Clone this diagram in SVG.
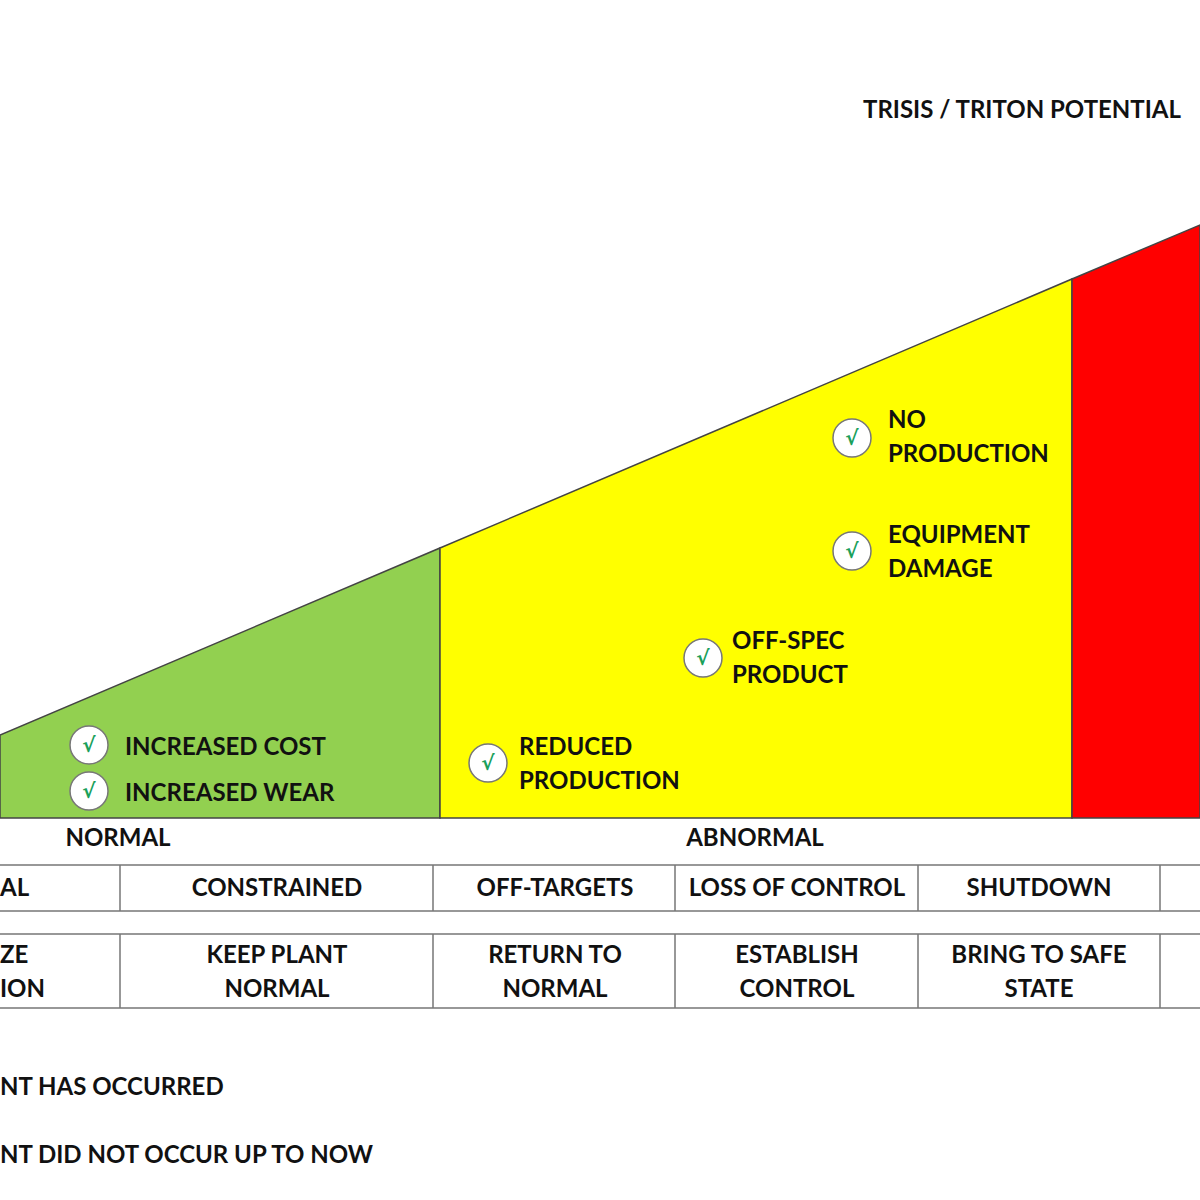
<svg xmlns="http://www.w3.org/2000/svg" width="1200" height="1200" viewBox="0 0 1200 1200">
<style>
text{font-family:Lato,"Open Sans","Liberation Sans",sans-serif;font-weight:bold;font-size:24px;fill:#111}
.c{text-anchor:middle}
.ck{fill:#fff;stroke:#777;stroke-width:1.5}
.cm{fill:#1aa05a;font-size:20px;text-anchor:middle;font-family:"DejaVu Sans",sans-serif}
.cell{fill:none;stroke:#777;stroke-width:1.5}
</style>
<rect width="1200" height="1200" fill="#fff"/>
<g id="zones">
<polygon points="0,735 440,548 440,818 0,818" fill="#92d050" stroke="#444" stroke-width="1.5"/>
<polygon points="440,548 1072,279 1072,818 440,818" fill="#ffff00" stroke="#444" stroke-width="1.5"/>
<polygon points="1072,279 1200,225 1200,818 1072,818" fill="#ff0000" stroke="#444" stroke-width="1.5"/>
</g>
<text id="title" x="863" y="118">TRISIS / TRITON POTENTIAL</text>
<g id="items">
<circle class="ck" cx="89" cy="745" r="19"/><text class="cm" x="89" y="752">√</text><text x="125" y="755">INCREASED COST</text>
<circle class="ck" cx="89" cy="791" r="19"/><text class="cm" x="89" y="798">√</text><text x="125" y="801">INCREASED WEAR</text>
<circle class="ck" cx="488" cy="763" r="19"/><text class="cm" x="488" y="770">√</text><text x="519" y="755">REDUCED</text><text x="519" y="789">PRODUCTION</text>
<circle class="ck" cx="703" cy="658" r="19"/><text class="cm" x="703" y="665">√</text><text x="732" y="649">OFF-SPEC</text><text x="732" y="683">PRODUCT</text>
<circle class="ck" cx="852" cy="551" r="19"/><text class="cm" x="852" y="558">√</text><text x="888" y="543">EQUIPMENT</text><text x="888" y="577">DAMAGE</text>
<circle class="ck" cx="852" cy="438" r="19"/><text class="cm" x="852" y="445">√</text><text x="888" y="428">NO</text><text x="888" y="462">PRODUCTION</text>
</g>
<g id="labels">
<text class="c" x="118" y="846">NORMAL</text>
<text class="c" x="755" y="846">ABNORMAL</text>
</g>
<g id="table">
<path class="cell" d="M0,865H1200M0,911H1200M0,934H1200M0,1008H1200M120,865V911M433,865V911M675,865V911M918,865V911M1160,865V911M120,934V1008M433,934V1008M675,934V1008M918,934V1008M1160,934V1008"/>
<text x="0" y="896">AL</text>
<text class="c" x="277" y="896">CONSTRAINED</text>
<text class="c" x="555" y="896">OFF-TARGETS</text>
<text class="c" x="797" y="896">LOSS OF CONTROL</text>
<text class="c" x="1039" y="896">SHUTDOWN</text>
<text x="0" y="963">ZE</text><text x="0" y="997">ION</text>
<text class="c" x="277" y="963">KEEP PLANT</text><text class="c" x="277" y="997">NORMAL</text>
<text class="c" x="555" y="963">RETURN TO</text><text class="c" x="555" y="997">NORMAL</text>
<text class="c" x="797" y="963">ESTABLISH</text><text class="c" x="797" y="997">CONTROL</text>
<text class="c" x="1039" y="963">BRING TO SAFE</text><text class="c" x="1039" y="997">STATE</text>
</g>
<g id="legend">
<text x="0" y="1095">NT HAS OCCURRED</text>
<text x="0" y="1163">NT DID NOT OCCUR UP TO NOW</text>
</g>
</svg>
